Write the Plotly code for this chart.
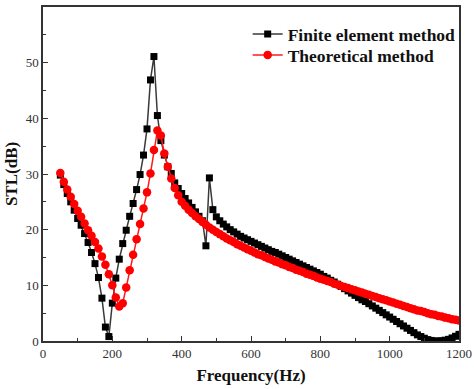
import plotly.graph_objects as go

freq = list(range(50, 1201, 10))

fem_stl = [
    29.8, 28.1, 26.5, 25.0, 23.5, 22.0, 20.8, 19.3, 17.7, 15.9,   # 50-140
    13.9, 11.4, 7.7, 2.5, 0.8, 6.8, 11.3, 14.7, 17.5, 19.9,       # 150-240
    22.4, 24.7, 27.2, 29.9, 33.4, 38.1, 46.9, 51.1, 40.5, 36.0,   # 250-340
    33.4, 31.3, 30.1, 28.4, 27.4, 26.5, 25.6, 24.8, 24.0, 23.2,   # 350-440
    22.4, 21.6, 17.1, 29.3, 23.6, 22.3, 21.6, 21.0, 20.5, 20.0,   # 450-540
    19.6, 19.2, 18.8, 18.5, 18.2, 17.9, 17.6, 17.3, 17.0, 16.7,   # 550-640
    16.4, 16.1, 15.9, 15.6, 15.3, 15.0, 14.7, 14.4, 14.1, 13.8,   # 650-740
    13.5, 13.2, 12.9, 12.6, 12.3, 12.0, 11.6, 11.3, 10.9, 10.6,   # 750-840
    10.2, 9.8, 9.4, 9.0, 8.6, 8.2, 7.8, 7.4, 7.1, 6.7,            # 850-940
    6.3, 5.9, 5.5, 5.1, 4.7, 4.3, 3.9, 3.5, 3.1, 2.7,             # 950-1040
    2.3, 1.9, 1.5, 1.1, 0.8, 0.5, 0.25, 0.1, 0.0, 0.0,            # 1050-1140
    0.05, 0.15, 0.3, 0.55, 0.85, 1.2                              # 1150-1200
]

theory_stl = [
    30.2, 28.6, 27.2, 25.9, 24.6, 23.4, 22.3, 21.1, 19.9, 18.9,   # 50-140
    17.8, 16.6, 15.2, 13.7, 12.0, 10.0, 7.8, 6.2, 6.8, 9.6,       # 150-240
    12.7, 15.5, 18.3, 21.0, 23.8, 26.7, 30.1, 34.3, 37.8, 36.9,   # 250-340
    33.7, 31.3, 29.2, 27.5, 26.2, 25.0, 24.3, 23.6, 23.0, 22.4,   # 350-440
    21.9, 21.4, 20.9, 20.4, 20.0, 19.6, 19.2, 18.8, 18.4, 18.1,   # 450-540
    17.8, 17.4, 17.1, 16.8, 16.5, 16.2, 15.9, 15.6, 15.4, 15.1,   # 550-640
    14.8, 14.6, 14.3, 14.1, 13.8, 13.6, 13.3, 13.1, 12.8, 12.6,   # 650-740
    12.4, 12.1, 11.9, 11.7, 11.4, 11.2, 11.0, 10.8, 10.6, 10.3,   # 750-840
    10.1, 9.9, 9.7, 9.5, 9.3, 9.1, 8.9, 8.7, 8.5, 8.3,            # 850-940
    8.1, 7.9, 7.7, 7.5, 7.3, 7.1, 6.9, 6.7, 6.5, 6.3,             # 950-1040
    6.1, 5.9, 5.7, 5.5, 5.4, 5.2, 5.0, 4.8, 4.7, 4.5,             # 1050-1140
    4.4, 4.2, 4.1, 3.9, 3.8, 3.7                                  # 1150-1200
]

x_ticks = [0, 200, 400, 600, 800, 1000, 1200]
y_ticks = [0, 10, 20, 30, 40, 50, 60]

SERIF = "Liberation Serif, Times New Roman, serif"

fig = go.Figure()
fig.add_trace(go.Scatter(
    x=freq, y=fem_stl, mode="lines+markers", name="<b>Finite element method</b>",
    line=dict(color="#3a3a3a", width=1.5),
    marker=dict(symbol="square", size=7, color="black"),
    legend="legend", showlegend=True,
))
fig.add_trace(go.Scatter(
    x=freq, y=theory_stl, mode="lines+markers", name="<b>Theoretical method</b>",
    line=dict(color="#ff1a1a", width=1.5),
    marker=dict(symbol="circle", size=8.5, color="#ff0000"),
    legend="legend2", showlegend=True,
))

axis_common = dict(
    showgrid=False, zeroline=False, showline=True, linecolor="#333333",
    linewidth=1.5, mirror=True, ticks="inside", ticklen=5, tickwidth=1,
    tickcolor="#333333", automargin=False,
    tickfont=dict(family=SERIF, size=13, color="#333333"),
)

fig.update_xaxes(
    range=[0, 1200], tickvals=x_ticks, ticktext=[str(v) for v in x_ticks],
    minor=dict(ticks="inside", dtick=100, tick0=0, ticklen=3, tickcolor="#333333"),
    title=dict(text="<b>Frequency(Hz)</b>", standoff=9,
               font=dict(family=SERIF, size=17, color="#111111")),
    **axis_common,
)
fig.update_yaxes(
    range=[0, 60], tickvals=y_ticks, ticktext=[str(v) for v in y_ticks],
    minor=dict(ticks="inside", dtick=5, tick0=0, ticklen=3, tickcolor="#333333"),
    title=dict(text="<b>STL(dB)</b>", standoff=4,
               font=dict(family=SERIF, size=17, color="#111111")),
    **axis_common,
)

legend_common = dict(
    xanchor="left", yanchor="middle",
    bgcolor="rgba(0,0,0,0)", borderwidth=0,
    font=dict(family=SERIF, size=17.5, color="#111111"),
    itemwidth=30, visible=True,
)

fig.update_layout(
    width=474, height=389,
    margin=dict(l=43, r=15, t=7, b=48),
    paper_bgcolor="white", plot_bgcolor="white",
    showlegend=True,
    legend=dict(x=0.492, y=(341 - 34) / 334, **legend_common),
    legend2=dict(x=0.492, y=(341 - 55) / 334, **legend_common),
)

fig.write_html("out.html", config={"displayModeBar": False},
               post_script="document.body.style.margin='0px';")
